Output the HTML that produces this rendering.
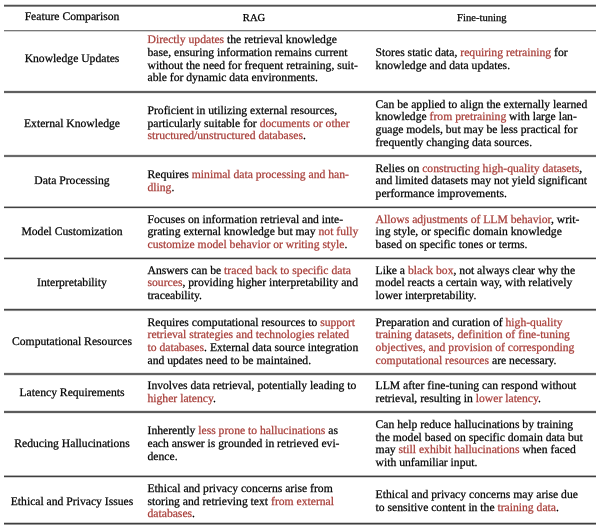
<!DOCTYPE html>
<html><head><meta charset="utf-8"><style>
html,body{margin:0;padding:0;background:#fff;width:600px;height:529px;overflow:hidden;position:relative}
#w{position:absolute;left:0;top:0;width:600px;height:529px;filter:blur(0.35px)}
.t{position:absolute;white-space:nowrap;-webkit-text-stroke:0.25px currentColor;text-rendering:geometricPrecision;font-family:"Liberation Serif",serif;font-size:11.65px;line-height:12.897px;color:#000000}
.c{width:300px;text-align:center}
.r{color:#a83f3a}
.rule{position:absolute;left:4px;width:592px}
</style></head><body><div id="w">
<div class="rule" style="top:4px;height:1px;background:rgb(210,210,210)"></div>
<div class="rule" style="top:5px;height:1px;background:rgb(80,80,80)"></div>
<div class="rule" style="top:6px;height:1px;background:rgb(140,140,140)"></div>
<div class="rule" style="top:30px;height:1px;background:rgb(120,120,120)"></div>
<div class="rule" style="top:31px;height:1px;background:rgb(210,210,210)"></div>
<div class="rule" style="top:90px;height:1px;background:rgb(235,235,235)"></div>
<div class="rule" style="top:91px;height:1px;background:rgb(95,95,95)"></div>
<div class="rule" style="top:92px;height:1px;background:rgb(95,95,95)"></div>
<div class="rule" style="top:93px;height:1px;background:rgb(235,235,235)"></div>
<div class="rule" style="top:154px;height:1px;background:rgb(235,235,235)"></div>
<div class="rule" style="top:155px;height:1px;background:rgb(105,105,105)"></div>
<div class="rule" style="top:156px;height:1px;background:rgb(105,105,105)"></div>
<div class="rule" style="top:157px;height:1px;background:rgb(240,240,240)"></div>
<div class="rule" style="top:206px;height:1px;background:rgb(175,175,175)"></div>
<div class="rule" style="top:207px;height:1px;background:rgb(65,65,65)"></div>
<div class="rule" style="top:208px;height:1px;background:rgb(230,230,230)"></div>
<div class="rule" style="top:257px;height:1px;background:rgb(185,185,185)"></div>
<div class="rule" style="top:258px;height:1px;background:rgb(60,60,60)"></div>
<div class="rule" style="top:259px;height:1px;background:rgb(215,215,215)"></div>
<div class="rule" style="top:308px;height:1px;background:rgb(215,215,215)"></div>
<div class="rule" style="top:309px;height:1px;background:rgb(70,70,70)"></div>
<div class="rule" style="top:310px;height:1px;background:rgb(135,135,135)"></div>
<div class="rule" style="top:311px;height:1px;background:rgb(248,248,248)"></div>
<div class="rule" style="top:372px;height:1px;background:rgb(235,235,235)"></div>
<div class="rule" style="top:373px;height:1px;background:rgb(100,100,100)"></div>
<div class="rule" style="top:374px;height:1px;background:rgb(100,100,100)"></div>
<div class="rule" style="top:375px;height:1px;background:rgb(230,230,230)"></div>
<div class="rule" style="top:410px;height:1px;background:rgb(228,228,228)"></div>
<div class="rule" style="top:411px;height:1px;background:rgb(92,92,92)"></div>
<div class="rule" style="top:412px;height:1px;background:rgb(92,92,92)"></div>
<div class="rule" style="top:413px;height:1px;background:rgb(235,235,235)"></div>
<div class="rule" style="top:475px;height:1px;background:rgb(175,175,175)"></div>
<div class="rule" style="top:476px;height:1px;background:rgb(62,62,62)"></div>
<div class="rule" style="top:477px;height:1px;background:rgb(210,210,210)"></div>
<div class="rule" style="top:522px;height:1px;background:rgb(205,205,205)"></div>
<div class="rule" style="top:523px;height:1px;background:rgb(62,62,62)"></div>
<div class="rule" style="top:524px;height:1px;background:rgb(150,150,150)"></div>
<div class="t c" style="left:-78.00px;top:11.00px;">Feature Comparison</div>
<div class="t c" style="left:104.00px;top:13.00px;font-size:10.6px">RAG</div>
<div class="t c" style="left:331.80px;top:13.00px;font-size:10.6px">Fine-tuning</div>
<div class="t c" style="left:-78.00px;top:53.00px;">Knowledge Updates</div>
<div class="t" style="left:147.50px;top:34.00px;"><span class="r">Directly updates</span> the retrieval knowledge</div>
<div class="t" style="left:147.50px;top:47.00px;">base, ensuring information remains current</div>
<div class="t" style="left:147.50px;top:60.00px;">without the need for frequent retraining, suit-</div>
<div class="t" style="left:147.50px;top:72.00px;">able for dynamic data environments.</div>
<div class="t" style="left:375.60px;top:47.00px;">Stores static data, <span class="r">requiring retraining</span> for</div>
<div class="t" style="left:375.60px;top:60.00px;">knowledge and data updates.</div>
<div class="t c" style="left:-78.00px;top:118.00px;">External Knowledge</div>
<div class="t" style="left:147.50px;top:105.00px;">Proficient in utilizing external resources,</div>
<div class="t" style="left:147.50px;top:118.00px;">particularly suitable for <span class="r">documents or other</span></div>
<div class="t" style="left:147.50px;top:130.00px;"><span class="r">structured/unstructured databases</span>.</div>
<div class="t" style="left:375.60px;top:99.00px;">Can be applied to align the externally learned</div>
<div class="t" style="left:375.60px;top:111.00px;">knowledge <span class="r">from pretraining</span> with large lan-</div>
<div class="t" style="left:375.60px;top:124.00px;">guage models, but may be less practical for</div>
<div class="t" style="left:375.60px;top:137.00px;">frequently changing data sources.</div>
<div class="t c" style="left:-78.00px;top:175.00px;">Data Processing</div>
<div class="t" style="left:147.50px;top:169.00px;">Requires <span class="r">minimal data processing and han-</span></div>
<div class="t" style="left:147.50px;top:182.00px;"><span class="r">dling</span>.</div>
<div class="t" style="left:375.60px;top:163.00px;">Relies on <span class="r">constructing high-quality datasets</span>,</div>
<div class="t" style="left:375.60px;top:175.00px;">and limited datasets may not yield significant</div>
<div class="t" style="left:375.60px;top:188.00px;">performance improvements.</div>
<div class="t c" style="left:-78.00px;top:226.00px;">Model Customization</div>
<div class="t" style="left:147.50px;top:214.00px;">Focuses on information retrieval and inte-</div>
<div class="t" style="left:147.50px;top:226.00px;">grating external knowledge but may <span class="r">not fully</span></div>
<div class="t" style="left:147.50px;top:239.00px;"><span class="r">customize model behavior or writing style</span>.</div>
<div class="t" style="left:375.60px;top:214.00px;"><span class="r">Allows adjustments of LLM behavior</span>, writ-</div>
<div class="t" style="left:375.60px;top:226.00px;">ing style, or specific domain knowledge</div>
<div class="t" style="left:375.60px;top:239.00px;">based on specific tones or terms.</div>
<div class="t c" style="left:-78.00px;top:277.00px;">Interpretability</div>
<div class="t" style="left:147.50px;top:265.00px;">Answers can be <span class="r">traced back to specific data</span></div>
<div class="t" style="left:147.50px;top:277.00px;"><span class="r">sources</span>, providing higher interpretability and</div>
<div class="t" style="left:147.50px;top:290.00px;">traceability.</div>
<div class="t" style="left:375.60px;top:265.00px;">Like a <span class="r">black box</span>, not always clear why the</div>
<div class="t" style="left:375.60px;top:277.00px;">model reacts a certain way, with relatively</div>
<div class="t" style="left:375.60px;top:290.00px;">lower interpretability.</div>
<div class="t c" style="left:-78.00px;top:336.00px;">Computational Resources</div>
<div class="t" style="left:147.50px;top:317.00px;">Requires computational resources to <span class="r">support</span></div>
<div class="t" style="left:147.50px;top:329.00px;"><span class="r">retrieval strategies and technologies related</span></div>
<div class="t" style="left:147.50px;top:342.00px;"><span class="r">to databases</span>. External data source integration</div>
<div class="t" style="left:147.50px;top:355.00px;">and updates need to be maintained.</div>
<div class="t" style="left:375.60px;top:317.00px;">Preparation and curation of <span class="r">high-quality</span></div>
<div class="t" style="left:375.60px;top:329.00px;"><span class="r">training datasets, definition of fine-tuning</span></div>
<div class="t" style="left:375.60px;top:342.00px;"><span class="r">objectives, and provision of corresponding</span></div>
<div class="t" style="left:375.60px;top:355.00px;"><span class="r">computational resources</span> are necessary.</div>
<div class="t c" style="left:-78.00px;top:387.00px;">Latency Requirements</div>
<div class="t" style="left:147.50px;top:380.00px;">Involves data retrieval, potentially leading to</div>
<div class="t" style="left:147.50px;top:393.00px;"><span class="r">higher latency</span>.</div>
<div class="t" style="left:375.60px;top:380.00px;">LLM after fine-tuning can respond without</div>
<div class="t" style="left:375.60px;top:393.00px;">retrieval, resulting in <span class="r">lower latency</span>.</div>
<div class="t c" style="left:-78.00px;top:438.00px;">Reducing Hallucinations</div>
<div class="t" style="left:147.50px;top:425.00px;">Inherently <span class="r">less prone to hallucinations</span> as</div>
<div class="t" style="left:147.50px;top:438.00px;">each answer is grounded in retrieved evi-</div>
<div class="t" style="left:147.50px;top:451.00px;">dence.</div>
<div class="t" style="left:375.60px;top:419.00px;">Can help reduce hallucinations by training</div>
<div class="t" style="left:375.60px;top:432.00px;">the model based on specific domain data but</div>
<div class="t" style="left:375.60px;top:444.00px;">may <span class="r">still exhibit hallucinations</span> when faced</div>
<div class="t" style="left:375.60px;top:457.00px;">with unfamiliar input.</div>
<div class="t c" style="left:-78.00px;top:496.00px;">Ethical and Privacy Issues</div>
<div class="t" style="left:147.50px;top:483.00px;">Ethical and privacy concerns arise from</div>
<div class="t" style="left:147.50px;top:496.00px;">storing and retrieving text <span class="r">from external</span></div>
<div class="t" style="left:147.50px;top:508.00px;"><span class="r">databases</span>.</div>
<div class="t" style="left:375.60px;top:489.00px;">Ethical and privacy concerns may arise due</div>
<div class="t" style="left:375.60px;top:502.00px;">to sensitive content in the <span class="r">training data</span>.</div>
</div></body></html>
